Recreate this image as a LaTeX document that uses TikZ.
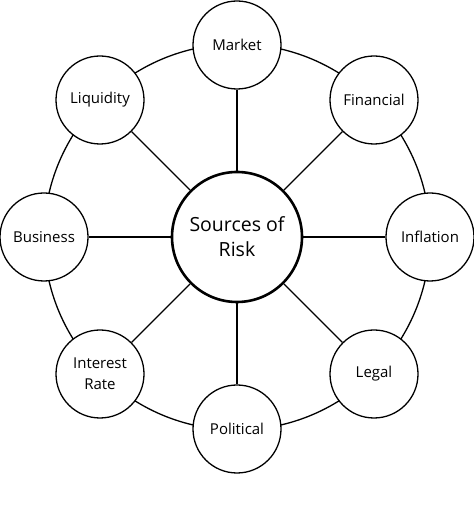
\documentclass[tikz,border=0pt]{standalone}
\usepackage{fontspec}
\setmainfont{Open Sans}
\begin{document}
\begin{tikzpicture}[x=1bp,y=1bp,
  sat/.style={circle,draw=black,line width=1.3bp,fill=white,minimum size=88bp,inner sep=0pt,align=center,font=\fontsize{15bp}{21bp}\selectfont},
  hub/.style={circle,draw=black,line width=2.6bp,fill=white,minimum size=130bp,inner sep=0pt,align=center,font=\fontsize{19.5bp}{25bp}\selectfont},
  spoke/.style={line width=1.3bp},
  ring/.style={line width=1.3bp}]
\useasboundingbox (0,0) rectangle (474,505);
\coordinate (o) at (237,268);
\draw[ring] (o) circle[radius=193];
\node[hub] (c) at (o) {Sources of\\Risk};
\node[sat] (market) at (237,460) {Market};
\node[sat] (financial) at (374,405) {Financial};
\node[sat] (inflation) at (430,268) {Inflation};
\node[sat] (legal) at (374,131) {Legal};
\node[sat] (political) at (237,76) {Political};
\node[sat] (interest) at (100,131) {Interest\\Rate};
\node[sat] (business) at (44,268) {Business};
\node[sat] (liquidity) at (100,405) {Liquidity};
\foreach \s in {market,financial,inflation,legal,political,interest,business,liquidity}
  \draw[spoke] (c) -- (\s);
\end{tikzpicture}
\end{document}
